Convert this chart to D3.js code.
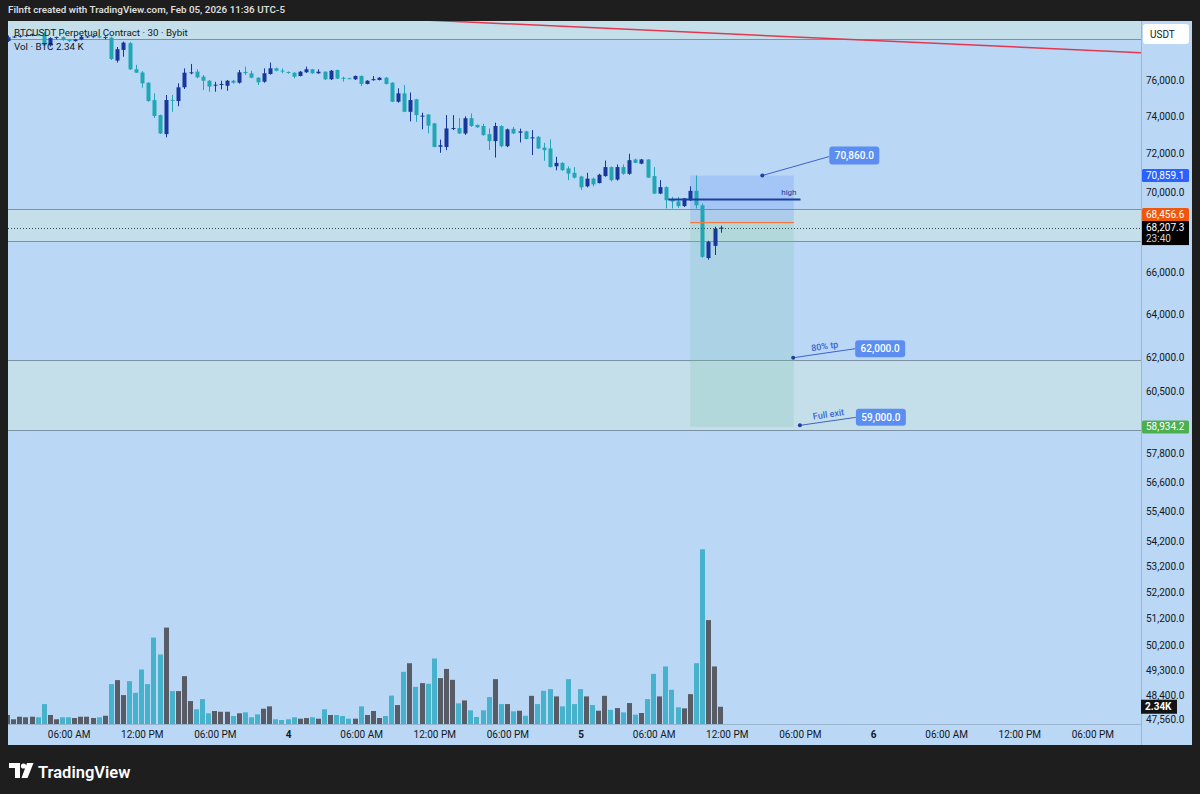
<!DOCTYPE html>
<html>
<head>
<meta charset="utf-8">
<title>BTCUSDT Perpetual 30m</title>
<script src="https://cdn.jsdelivr.net/npm/d3@7"></script>
<style>
  body { margin: 0; background: #1e1e1e; }
  svg { display: block; font-family: Roboto, "Noto Sans", sans-serif; }
</style>
</head>
<body>
<div id="chart"></div>
<script>
// ---------------- data ----------------
// 30 minute bars starting Feb 3, 01:00 (UTC-5), [open, high, low, close]
var firstBar = new Date(2026, 1, 3, 1, 0);
var barMinutes = 30;
var ohlc = [
  [78200,78520,78150,78420],[78420,78500,78380,78460],[78460,78560,78400,78500],[78500,78580,78450,78540],
  [78540,78620,78480,78580],[78580,78620,78500,78540],[78540,78740,77900,77950],[77950,78420,77880,78380],
  [78380,78460,78300,78430],[78430,78480,78220,78260],[78260,78320,78150,78200],[78200,78330,78170,78290],
  [78290,78500,78250,78450],[78450,78480,78380,78470],[78470,78500,78400,78480],[78480,78500,78360,78400],
  [78400,78480,78300,78430],[78400,78450,77120,77180],[77090,77860,76980,77735],[77695,78170,77310,78110],
  [78080,78150,76560,76600],[76600,76850,76400,76410],[76420,76500,75570,75815],[75850,75870,74800,74835],
  [74890,75260,73910,74020],[74070,74100,73050,73080],[73045,75170,72870,74892],[74900,75170,74250,74850],
  [74835,75815,74550,75595],[75595,76650,75500,76410],[76380,76900,76320,76430],[76470,76600,76100,76150],
  [76185,76280,75440,75960],[75960,76000,75350,75630],[75700,75900,75350,75740],[75740,75960,75480,75780],
  [75680,76000,75400,75960],[75960,76000,75800,75850],[75850,76560,75800,76430],[76450,76750,76280,76380],
  [76375,76520,76100,76130],[76130,76150,75720,75870],[75905,76650,75850,76375],[76335,76980,76300,76655],
  [76655,76700,76480,76520],[76530,76650,76375,76500],[76450,76480,76350,76410],[76410,76430,76095,76185],
  [76225,76500,76200,76465],[76430,76750,76400,76600],[76600,76620,76350,76375],[76375,76600,76350,76465],
  [76465,76480,76000,76040],[76040,76560,76000,76520],[76560,76580,76050,76075],[76120,76185,75905,76095],
  [76100,76120,76050,76080],[76040,76250,76000,76225],[76225,76250,75665,75780],[75780,75990,75760,75960],
  [75990,76225,75960,76050],[76000,76160,75980,76130],[76130,76160,75750,75780],[75850,75880,74780,74800],
  [74800,75540,74750,75260],[75260,75720,74230,74250],[74250,75310,73730,74890],[74930,74960,73700,74070],
  [74000,74200,73300,74040],[74100,74120,73080,73500],[73620,73650,72340,72360],[72370,72750,72050,72450],
  [72360,74070,72190,73350],[73330,74070,73260,73370],[73370,73900,73050,73080],[73080,74000,73000,73900],
  [73900,74160,73430,73480],[73540,73560,73380,73410],[73480,73600,72960,72990],[73040,73350,72200,72670],
  [72670,73660,71800,73480],[73480,73520,72340,72400],[72400,73340,72350,73300],[73330,73430,73050,73080],
  [73120,73340,72600,73190],[73190,73220,72760,72780],[72830,73260,71930,72870],[72900,72950,72250,72280],
  [72330,72580,71630,72190],[72280,72760,71280,71300],[71340,71840,71130,71520],[71520,71560,71100,71140],
  [71230,71340,70620,70960],[71000,71300,70700,70750],[70810,70850,70120,70250],[70300,71000,70250,70700],
  [70700,70750,70300,70400],[70470,70950,70450,70900],[70830,71640,70800,71300],[71300,71330,70550,70620],
  [70650,71440,70600,71300],[71300,71440,70900,70950],[70950,72000,70900,71660],[71700,71740,71500,71520],
  [71480,71720,71450,71700],[71700,71720,70730,70750],[70830,71300,69900,69930],[69930,70620,69900,70260],
  [70260,70300,69170,69590],[69600,69760,69170,69520],[69530,69760,69200,69290],[69290,69700,69250,69680],
  [69590,70300,69550,70070],[70070,70859,69170,69330],[69330,69420,66710,66760],[66700,67550,66620,67500],
  [67300,68250,66850,68150],[68150,68300,67950,68207.3]
];
// volume in thousands of BTC, same bars
var volumeK = [
  1.22,0.64,0.99,0.91,0.99,0.91,2.70,1.22,0.64,0.91,0.91,0.81,0.99,0.99,0.81,0.91,1.12,
  5.41,5.95,3.92,5.81,4.23,7.39,5.41,11.72,9.42,13.07,4.46,4.46,6.49,3.11,1.99,3.38,1.45,
  1.76,1.66,1.66,1.08,1.45,1.58,0.91,1.31,2.07,2.39,0.64,0.54,
  0.64,0.91,0.72,0.81,0.91,0.72,1.99,1.22,1.22,1.08,0.72,0.72,2.39,1.22,1.76,0.81,1.08,3.85,
  2.57,7.07,8.24,5.04,5.54,5.45,8.88,6.22,7.47,5.99,2.80,3.20,1.85,0.95,1.85,3.65,6.08,2.70,
  2.70,1.72,1.80,1.12,3.82,2.70,4.50,4.73,3.74,2.39,6.08,2.70,
  4.73,3.74,2.57,1.80,3.82,1.93,2.16,1.58,2.84,1.26,1.49,3.38,6.80,3.74,7.80,4.64,2.26,2.12,
  4.05,8.24,23.69,14.09,7.80,2.34
];

var priceTicks = [76000, 74000, 72000, 70000, 66000, 64000, 62000, 60500, 57800, 56600,
                  55400, 54200, 53200, 52200, 51200, 50200, 49300, 48400, 47560];
var timeTicks = [
  new Date(2026,1,3,6), new Date(2026,1,3,12), new Date(2026,1,3,18), new Date(2026,1,4,0),
  new Date(2026,1,4,6), new Date(2026,1,4,12), new Date(2026,1,4,18), new Date(2026,1,5,0),
  new Date(2026,1,5,6), new Date(2026,1,5,12), new Date(2026,1,5,18), new Date(2026,1,6,0),
  new Date(2026,1,6,6), new Date(2026,1,6,12), new Date(2026,1,6,18)
];
var timeTickLabels = ["06:00 AM","12:00 PM","06:00 PM","4","06:00 AM","12:00 PM","06:00 PM","5",
                      "06:00 AM","12:00 PM","06:00 PM","6","06:00 AM","12:00 PM","06:00 PM"];
var dayTicks = ["4", "5", "6"];

var lastPrice = 68207.3;
var lastVolumeLabel = "2.34K";
var countdown = "23:40";

// short position tool
var entryPrice = 68456.6, stopPrice = 70859.1, targetPrice = 58934.2;
var positionStart = new Date(2026,1,5,9,0), positionEnd = new Date(2026,1,5,17,30);

// horizontal rectangle zones [low, high]
var zones = [[78319, 80000], [67540, 69142], [58803, 61899]];

// "high" line
var highPrice = 69625;
var highStart = new Date(2026,1,5,7,12), highEnd = new Date(2026,1,5,18,3);

// trend line anchors
var trendTimes = [new Date(2026,1,4,12,0), new Date(2026,1,6,22,0)];
var trendPrices = [79390, 77540];

// callouts: anchor time, anchor price, box label, side note
var calloutTimes = [new Date(2026,1,5,14,55), new Date(2026,1,5,17,27), new Date(2026,1,5,18,0)];
var calloutPrices = [70860, 62000, 59000];
var calloutLabels = ["70,860.0", "62,000.0", "59,000.0"];
var calloutNotes = ["", "80% tp", "Full exit"];

// ---------------- layout ----------------
var W = 1200, H = 794;
var panel = {left: 8, top: 21, right: 1192, bottom: 745};
var plot = {left: 8, top: 21, right: 1141, bottom: 724};

var colors = {
  bg: "#bad8f6", zone: "#c5dfea", zoneLine: "#7a92a4",
  up: "#17379b", down: "#21a6b4", volUp: "#575c66", volDown: "#46b2cb",
  text: "#131722", axisLine: "#9cb6cf"
};

var y = d3.scaleLog().domain([47399, 79360]).range([plot.bottom, plot.top]);
var x = d3.scaleTime().domain([new Date(2026,1,4), new Date(2026,1,6)]).range([288, 873]);
var vy = d3.scaleLinear().domain([0, 24]).range([plot.bottom, plot.bottom - 177]);

var bars = ohlc.map(function(d, i) {
  return {t: d3.timeMinute.offset(firstBar, i * barMinutes), o: d[0], h: d[1], l: d[2], c: d[3], v: volumeK[i]};
});

var svg = d3.select("#chart").append("svg").attr("width", W).attr("height", H);

svg.append("rect").attr("width", W).attr("height", H).attr("fill", "#1e1e1e");
svg.append("text").attr("x", 8).attr("y", 13).attr("fill", "#dcdcdc")
  .style("font-size", "9.8px").style("font-weight", 600)
  .text("Filnft created with TradingView.com, Feb 05, 2026 11:36 UTC-5");

svg.append("rect").attr("x", panel.left).attr("y", panel.top)
  .attr("width", panel.right - panel.left).attr("height", panel.bottom - panel.top)
  .attr("fill", colors.bg);

svg.append("clipPath").attr("id", "plotclip").append("rect")
  .attr("x", plot.left).attr("y", plot.top)
  .attr("width", plot.right - plot.left).attr("height", plot.bottom - plot.top);

var g = svg.append("g").attr("clip-path", "url(#plotclip)");

// zones
zones.forEach(function(z) {
  g.append("rect").attr("x", plot.left).attr("width", plot.right - plot.left)
    .attr("y", y(z[1])).attr("height", y(z[0]) - y(z[1])).attr("fill", colors.zone);
  [z[0], z[1]].forEach(function(p) {
    g.append("line").attr("x1", plot.left).attr("x2", plot.right)
      .attr("y1", Math.round(y(p)) + 0.5).attr("y2", Math.round(y(p)) + 0.5)
      .attr("stroke", colors.zoneLine).attr("stroke-width", 1);
  });
});

// position tool
var px0 = x(positionStart), px1 = x(positionEnd);
g.append("rect").attr("x", px0).attr("width", px1 - px0)
  .attr("y", y(stopPrice)).attr("height", y(entryPrice) - y(stopPrice))
  .attr("fill", "rgba(60,110,250,0.17)");
g.append("rect").attr("x", px0).attr("width", px1 - px0)
  .attr("y", y(entryPrice)).attr("height", y(targetPrice) - y(entryPrice))
  .attr("fill", "rgba(120,190,170,0.22)");

// volume
g.selectAll(".vol").data(bars).enter().append("rect")
  .attr("x", function(d) { return Math.round(x(d.t) - 2.5); })
  .attr("width", 5)
  .attr("y", function(d) { return vy(d.v); })
  .attr("height", function(d) { return vy(0) - vy(d.v); })
  .attr("fill", function(d) { return d.c >= d.o ? colors.volUp : colors.volDown; });

// candles
var cg = g.selectAll(".candle").data(bars).enter().append("g");
cg.append("line")
  .attr("x1", function(d) { return Math.round(x(d.t)) + 0.5; })
  .attr("x2", function(d) { return Math.round(x(d.t)) + 0.5; })
  .attr("y1", function(d) { return y(d.h); })
  .attr("y2", function(d) { return y(d.l); })
  .attr("stroke", function(d) { return d.c >= d.o ? colors.up : colors.down; });
cg.append("rect")
  .attr("x", function(d) { return Math.round(x(d.t)) - 1.5; })
  .attr("width", 4)
  .attr("y", function(d) { return y(Math.max(d.o, d.c)); })
  .attr("height", function(d) { return Math.max(1, Math.abs(y(d.o) - y(d.c))); })
  .attr("fill", function(d) { return d.c >= d.o ? colors.up : colors.down; });

// entry line
g.append("line").attr("x1", px0).attr("x2", px1)
  .attr("y1", y(entryPrice)).attr("y2", y(entryPrice))
  .attr("stroke", "#f07a40").attr("stroke-width", 1.2);

// last price dotted line
g.append("line").attr("x1", plot.left).attr("x2", plot.right)
  .attr("y1", Math.round(y(lastPrice)) + 0.5).attr("y2", Math.round(y(lastPrice)) + 0.5)
  .attr("stroke", "#3f4a55").attr("stroke-dasharray", "1,2");

// high line
g.append("line").attr("x1", x(highStart)).attr("x2", x(highEnd))
  .attr("y1", y(highPrice)).attr("y2", y(highPrice))
  .attr("stroke", "#1b3f9c").attr("stroke-width", 2);
g.append("text").attr("x", x(highEnd) - 4).attr("y", y(highPrice) - 5)
  .attr("text-anchor", "end").attr("fill", "#1b3f9c").style("font-size", "8px").text("high");

// trend line, extended over the plot
var tx0 = x(trendTimes[0]), ty0 = y(trendPrices[0]), tx1 = x(trendTimes[1]), ty1 = y(trendPrices[1]);
var slope = (ty1 - ty0) / (tx1 - tx0);
g.append("line").attr("x1", tx0 - 40).attr("y1", ty0 - 40 * slope)
  .attr("x2", tx1).attr("y2", ty1)
  .attr("stroke", "#e2384f").attr("stroke-width", 1.5);

// callouts
var boxOffsets = [[67, -19], [62, -9], [56, -8]];
calloutTimes.forEach(function(t, i) {
  var ax = x(t), ay = y(calloutPrices[i]);
  var bx = ax + boxOffsets[i][0], by = ay + boxOffsets[i][1];
  svg.append("line").attr("x1", ax).attr("y1", ay).attr("x2", bx).attr("y2", by)
    .attr("stroke", "#3e62c9").attr("stroke-width", 1);
  svg.append("circle").attr("cx", ax).attr("cy", ay).attr("r", 2).attr("fill", "#1f3f9e");
  var bh = i === 0 ? 18 : 17;
  svg.append("rect").attr("x", bx).attr("y", by - bh / 2 - (i === 0 ? 1 : 0))
    .attr("width", 50).attr("height", bh).attr("rx", 3).attr("fill", "#5c8ef2");
  svg.append("text").attr("x", bx + 25).attr("y", by - (i === 0 ? 1 : 0) + 3.5)
    .attr("text-anchor", "middle").attr("fill", "#ffffff").style("font-size", "10px")
    .style("font-weight", 500).text(calloutLabels[i]);
  if (calloutNotes[i]) {
    var ang = Math.atan2(by - ay, bx - ax) * 180 / Math.PI;
    var mx = (ax + bx) / 2 + 1, my = (ay + by) / 2 - 4;
    svg.append("text").attr("transform", "translate(" + mx + "," + my + ") rotate(" + ang + ")")
      .attr("text-anchor", "middle").attr("fill", "#3a63d6").style("font-size", "9px")
      .style("font-weight", 500).text(calloutNotes[i]);
  }
});

// legend
svg.append("text").attr("x", 14).attr("y", 36).attr("fill", colors.text).style("font-size", "9.8px")
  .text("BTCUSDT Perpetual Contract \u00b7 30 \u00b7 Bybit");
svg.append("text").attr("x", 14).attr("y", 50).attr("fill", colors.text).style("font-size", "9.8px")
  .text("Vol \u00b7 BTC  2.34 K");

// axes frame
svg.append("line").attr("x1", plot.right + 0.5).attr("x2", plot.right + 0.5)
  .attr("y1", panel.top).attr("y2", panel.bottom).attr("stroke", colors.axisLine);
svg.append("line").attr("x1", panel.left).attr("x2", plot.right)
  .attr("y1", plot.bottom + 0.5).attr("y2", plot.bottom + 0.5).attr("stroke", colors.axisLine);

// price axis
var yAxis = svg.append("g").attr("transform", "translate(" + (plot.right + 5) + ",0)")
  .call(d3.axisRight(y).tickValues(priceTicks).tickSize(0).tickPadding(0)
    .tickFormat(function(d) { return d3.format(",.1f")(d); }));
yAxis.select(".domain").remove();
yAxis.selectAll("text").attr("fill", colors.text).style("font-size", "10px")
  .style("font-family", "Roboto, sans-serif");

// time axis
var xAxis = svg.append("g").attr("transform", "translate(0," + (plot.bottom + 4) + ")")
  .call(d3.axisBottom(x).tickValues(timeTicks).tickSize(0).tickPadding(3)
    .tickFormat(function(d, i) { return timeTickLabels[i]; }));
xAxis.select(".domain").remove();
xAxis.selectAll("text").attr("fill", colors.text).style("font-size", "10px")
  .style("font-family", "Roboto, sans-serif")
  .style("font-weight", function(d, i) { return dayTicks.indexOf(timeTickLabels[i]) >= 0 ? 700 : 400; });

// price scale badges
svg.append("rect").attr("x", 1143).attr("y", 24).attr("width", 46).attr("height", 20).attr("rx", 3)
  .attr("fill", "#ffffff");
svg.append("text").attr("x", 1150).attr("y", 38).attr("fill", colors.text).style("font-size", "10px").text("USDT");

function badge(price, fill, label, shift) {
  var cy = y(price) + (shift || 0);
  svg.append("rect").attr("x", plot.right + 1).attr("y", cy - 6.5).attr("width", 47).attr("height", 13)
    .attr("rx", 1.5).attr("fill", fill);
  svg.append("text").attr("x", plot.right + 5).attr("y", cy + 3.5).attr("fill", "#ffffff")
    .style("font-size", "10px").text(label);
}
badge(stopPrice, "#2962ff", d3.format(",.1f")(stopPrice));
badge(entryPrice, "#f0570c", d3.format(",.1f")(entryPrice), -8);
badge(targetPrice, "#4caf50", d3.format(",.1f")(targetPrice));

var ly = y(lastPrice);
svg.append("rect").attr("x", plot.right + 1).attr("y", ly - 6.5).attr("width", 47).attr("height", 24)
  .attr("fill", "#000000");
svg.append("text").attr("x", plot.right + 5).attr("y", ly + 3.5).attr("fill", "#ffffff")
  .style("font-size", "10px").text(d3.format(",.1f")(lastPrice));
svg.append("text").attr("x", plot.right + 5).attr("y", ly + 14.5).attr("fill", "#d0d0d0")
  .style("font-size", "10px").text(countdown);

var vly = vy(volumeK[volumeK.length - 1]);
svg.append("rect").attr("x", plot.right).attr("y", vly - 7).attr("width", 36).attr("height", 14)
  .attr("fill", "#131313");
svg.append("text").attr("x", plot.right + 4).attr("y", vly + 3.5).attr("fill", "#ffffff")
  .style("font-size", "10px").style("font-weight", 700).text(lastVolumeLabel);

// footer logo
var logo = svg.append("g").attr("fill", "#ffffff");
logo.append("path").attr("d", "M9,763 H20 V778 H15 V768 H9 Z");
logo.append("circle").attr("cx", 23.5).attr("cy", 766).attr("r", 2.6);
logo.append("path").attr("d", "M27,763 H33.5 L27.5,778 H21.5 Z");
svg.append("text").attr("x", 38).attr("y", 777.5).attr("fill", "#ffffff")
  .style("font-size", "16.5px").style("font-weight", 600).text("TradingView");
</script>
</body>
</html>
